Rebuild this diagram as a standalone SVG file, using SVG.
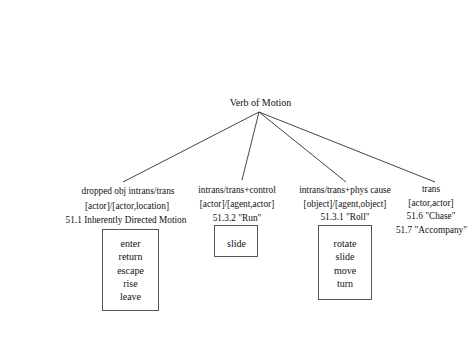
<svg xmlns="http://www.w3.org/2000/svg" width="474" height="353" viewBox="0 0 474 353">
<style>
text{font-family:"Liberation Serif","Times New Roman",serif;fill:#111;text-anchor:middle}
.t{font-size:10px}
.l{font-size:9.3px}
.b{font-size:10px}
.box{fill:#fff;stroke:#555;stroke-width:1}
.edge{stroke:#444;stroke-width:1;fill:none}
</style>
<rect width="474" height="353" fill="#fff"/>
<g id="connectors">
<line class="edge" x1="259" y1="112" x2="123" y2="182"/>
<line class="edge" x1="259" y1="112" x2="242" y2="180"/>
<line class="edge" x1="259" y1="112" x2="346" y2="182"/>
<line class="edge" x1="259" y1="112" x2="435" y2="182"/>
</g>
<g id="root"><text class="t" x="260.5" y="105.5">Verb of Motion</text></g>
<g id="n1">
<text class="l" x="128" y="194">dropped obj intrans/trans</text>
<text class="l" x="127" y="208.5">[actor]/[actor,location]</text>
<text class="l" x="126" y="223">51.1 Inherently Directed Motion</text>
<rect class="box" x="102.5" y="229.5" width="56" height="81"/>
<text class="b" x="130.5" y="247">enter</text>
<text class="b" x="130.5" y="260">return</text>
<text class="b" x="130.5" y="273.5">escape</text>
<text class="b" x="130.5" y="286.5">rise</text>
<text class="b" x="130.5" y="300">leave</text>
</g>
<g id="n2">
<text class="l" x="237" y="193">intrans/trans+control</text>
<text class="l" x="237" y="207">[actor]/[agent,actor]</text>
<text class="l" x="237" y="221">51.3.2 "Run"</text>
<rect class="box" x="214.5" y="225.5" width="43" height="31"/>
<text class="b" x="236.5" y="247">slide</text>
</g>
<g id="n3">
<text class="l" x="345" y="192.5">intrans/trans+phys cause</text>
<text class="l" x="345" y="206.5">[object]/[agent,object]</text>
<text class="l" x="345" y="220">51.3.1 "Roll"</text>
<rect class="box" x="318.5" y="225.5" width="53" height="74"/>
<text class="b" x="345" y="247">rotate</text>
<text class="b" x="345" y="260">slide</text>
<text class="b" x="345" y="273.5">move</text>
<text class="b" x="345" y="286.5">turn</text>
</g>
<g id="n4">
<text class="l" x="431" y="192">trans</text>
<text class="l" x="431" y="205.5">[actor,actor]</text>
<text class="l" x="431" y="219">51.6 "Chase"</text>
<text class="l" x="431.5" y="232.5">51.7 "Accompany"</text>
</g>
</svg>
